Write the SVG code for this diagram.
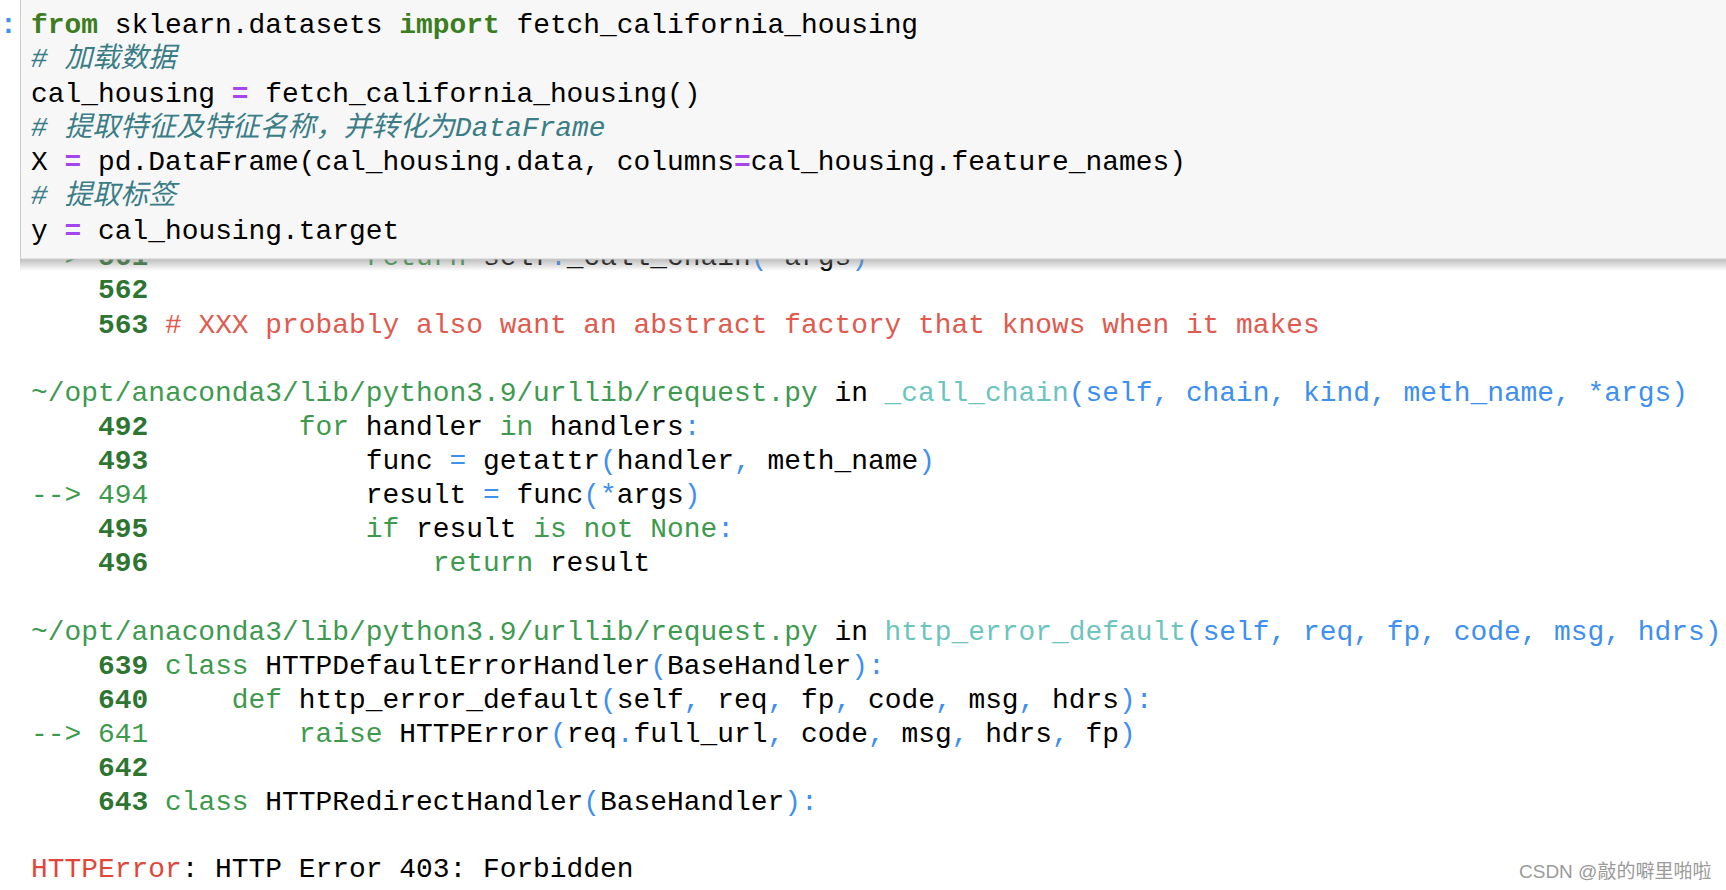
<svg xmlns="http://www.w3.org/2000/svg" width="1726" height="890" viewBox="0 0 1726 890">
<defs>
<linearGradient id="sh" x1="0" y1="0" x2="0" y2="1"><stop offset="0" stop-color="#888" stop-opacity="0.55"/><stop offset="1" stop-color="#888" stop-opacity="0"/></linearGradient>
<style>
text{font-family:"Liberation Mono","Noto Sans CJK SC",monospace;font-size:27.9px;white-space:pre;fill:#000}
.n{fill:#2e7532;font-weight:bold}
.ar{fill:#3d9a4c}
.k{fill:#3d9a4c}
.p{fill:#3d9a50}
.f{fill:#6cc5bd}
.b{fill:#3d8ff0}
.r{fill:#e05a4f}
.e{fill:#e0473a}
.kb{fill:#3b7d1f;font-weight:bold}
.eq{fill:#a445f0;font-weight:bold}
.c{fill:#3a7d86;font-style:italic}
.wm{font-family:"Liberation Sans","Noto Sans CJK SC",sans-serif;font-size:19px;fill:#9a9a9a}
</style>
</defs>
<rect width="1726" height="890" fill="#fff"/>
<g id="traceback">
<text x="31" y="265"><tspan class="ar">--&gt;</tspan> <tspan class="n">561</tspan>             <tspan class="k">return</tspan> self<tspan class="b">.</tspan>_call_chain<tspan class="b">(*</tspan>args<tspan class="b">)</tspan></text>
<text x="31" y="298">    <tspan class="n">562</tspan></text>
<text x="31" y="333">    <tspan class="n">563</tspan> <tspan class="r"># XXX probably also want an abstract factory that knows when it makes</tspan></text>
<text x="31" y="401"><tspan class="p">~/opt/anaconda3/lib/python3.9/urllib/request.py</tspan> in <tspan class="f">_call_chain</tspan><tspan class="b">(self, chain, kind, meth_name, *args)</tspan></text>
<text x="31" y="435">    <tspan class="n">492</tspan>         <tspan class="k">for</tspan> handler <tspan class="k">in</tspan> handlers<tspan class="b">:</tspan></text>
<text x="31" y="469">    <tspan class="n">493</tspan>             func <tspan class="b">=</tspan> getattr<tspan class="b">(</tspan>handler<tspan class="b">,</tspan> meth_name<tspan class="b">)</tspan></text>
<text x="31" y="503"><tspan class="ar">--&gt; 494</tspan>             result <tspan class="b">=</tspan> func<tspan class="b">(*</tspan>args<tspan class="b">)</tspan></text>
<text x="31" y="537">    <tspan class="n">495</tspan>             <tspan class="k">if</tspan> result <tspan class="k">is</tspan> <tspan class="k">not</tspan> <tspan class="k">None</tspan><tspan class="b">:</tspan></text>
<text x="31" y="571">    <tspan class="n">496</tspan>                 <tspan class="k">return</tspan> result</text>
<text x="31" y="640"><tspan class="p">~/opt/anaconda3/lib/python3.9/urllib/request.py</tspan> in <tspan class="f">http_error_default</tspan><tspan class="b">(self, req, fp, code, msg, hdrs)</tspan></text>
<text x="31" y="674">    <tspan class="n">639</tspan> <tspan class="k">class</tspan> HTTPDefaultErrorHandler<tspan class="b">(</tspan>BaseHandler<tspan class="b">):</tspan></text>
<text x="31" y="708">    <tspan class="n">640</tspan>     <tspan class="k">def</tspan> http_error_default<tspan class="b">(</tspan>self<tspan class="b">,</tspan> req<tspan class="b">,</tspan> fp<tspan class="b">,</tspan> code<tspan class="b">,</tspan> msg<tspan class="b">,</tspan> hdrs<tspan class="b">):</tspan></text>
<text x="31" y="742"><tspan class="ar">--&gt; 641</tspan>         <tspan class="k">raise</tspan> HTTPError<tspan class="b">(</tspan>req<tspan class="b">.</tspan>full_url<tspan class="b">,</tspan> code<tspan class="b">,</tspan> msg<tspan class="b">,</tspan> hdrs<tspan class="b">,</tspan> fp<tspan class="b">)</tspan></text>
<text x="31" y="776">    <tspan class="n">642</tspan></text>
<text x="31" y="810">    <tspan class="n">643</tspan> <tspan class="k">class</tspan> HTTPRedirectHandler<tspan class="b">(</tspan>BaseHandler<tspan class="b">):</tspan></text>
<text x="31" y="877"><tspan class="e">HTTPError</tspan>: HTTP Error 403: Forbidden</text>
</g>
<g id="popup">
<rect x="20" y="259" width="1706" height="12" fill="url(#sh)"/>
<rect x="20.5" y="-1" width="1710" height="260" fill="#f7f7f7" stroke="#cfcfcf"/>
<text x="31" y="33"><tspan class="kb">from</tspan> sklearn.datasets <tspan class="kb">import</tspan> fetch_california_housing</text>
<text x="31" y="67" class="c"># 加载数据</text>
<text x="31" y="102">cal_housing <tspan class="eq">=</tspan> fetch_california_housing()</text>
<text x="31" y="136" class="c"># 提取特征及特征名称，并转化为DataFrame</text>
<text x="31" y="170">X <tspan class="eq">=</tspan> pd.DataFrame(cal_housing.data, columns<tspan class="eq">=</tspan>cal_housing.feature_names)</text>
<text x="31" y="204" class="c"># 提取标签</text>
<text x="31" y="239">y <tspan class="eq">=</tspan> cal_housing.target</text>
</g>
<text x="0" y="33" class="b" style="font-weight:bold">:</text>
<text x="1519" y="878" class="wm">CSDN @敲的噼里啪啦</text>
</svg>
